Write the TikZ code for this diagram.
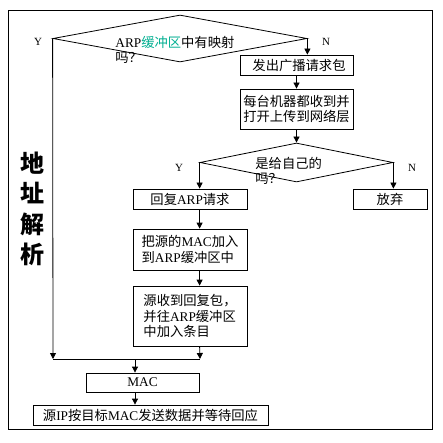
\documentclass[tikz,border=0pt]{standalone}
\usepackage{fontspec}
\setmainfont{Noto Sans CJK SC}
\newfontfamily\lat{Liberation Serif}
\usetikzlibrary{shapes.geometric,arrows.meta}
\definecolor{teal1}{RGB}{0,175,145}
\begin{document}
\begin{tikzpicture}[x=1pt,y=-1pt,
  line width=0.8pt,
  box/.style={draw,rectangle,inner sep=1pt,align=left,font=\fontsize{13.3}{15.5}\selectfont},
  dia/.style={draw,diamond,inner sep=0pt},
  txt/.style={inner sep=0pt,anchor=west,font=\fontsize{13.3}{15.5}\selectfont},
  yn/.style={inner sep=0pt,font=\lat\fontsize{11}{13}\selectfont},
  arr/.style={-{Triangle[length=6pt,width=6pt]}}]
\useasboundingbox[fill=white] (0,0) rectangle (443,443);
\node[draw,rectangle,minimum width=424pt,minimum height=419pt,inner sep=0pt] (frame) at (220,219.5) {};
\node[inner sep=0pt,align=center,font=\fontsize{24}{30.5}\selectfont\bfseries] (side) at (32,209) {地\\址\\解\\析};
% decision 1
\node[dia,minimum width=254pt,minimum height=47pt] (d1) at (180,38.5) {};
\node[txt] (t1a) at (115,42) {{\lat ARP}\textcolor{teal1}{缓冲区}中有映射};
\node[txt] (t1b) at (115,58) {吗？};
\node[yn] (y1) at (38,42) {Y};
\node[yn] (n1) at (326,42) {N};
% right branch
\node[box,minimum width=113pt,minimum height=20pt] (b1) at (296.5,65) {\hspace{5pt}发出广播请求包};
\node[box,minimum width=113pt,minimum height=40pt] (b2) at (296.5,109) {每台机器都收到并\\打开上传到网络层};
% decision 2
\node[dia,minimum width=193pt,minimum height=39pt] (d2) at (296.5,162.5) {};
\node[txt] (t2a) at (255,163) {是给自己的};
\node[txt] (t2b) at (255,179) {吗？};
\node[yn] (y2) at (179,168) {Y};
\node[yn] (n2) at (412,168) {N};
\node[box,minimum width=114pt,minimum height=20pt] (b3) at (190,199) {回复{\lat ARP}请求};
\node[box,minimum width=74pt,minimum height=20pt] (b4) at (390,199) {放弃};
\node[box,minimum width=114pt,minimum height=41pt] (b5) at (190,249.5) {把源的{\lat MAC}加入\\到{\lat ARP}缓冲区中};
\node[box,minimum width=114pt,minimum height=60pt] (b6) at (190,316) {源收到回复包，\\并往{\lat ARP}缓冲区\\中加入条目};
\node[box,minimum width=113pt,minimum height=19pt] (b7) at (142.5,382.5) {\lat MAC};
\node[box,minimum width=235pt,minimum height=20pt] (b8) at (150.5,415) {源{\lat IP}按目标{\lat MAC}发送数据并等待回应};
\coordinate (jl) at (53,359);
\coordinate (jr) at (200,359);
\coordinate (jm) at (135,359);
% connectors
\draw[arr] (d1.east) -- (d1.east |- b1.north);
\draw[arr] (b1.south) -- (b2.north);
\draw[arr] (b2.south) -- (d2.north);
\draw[arr] (d2.west) -- (d2.west |- b3.north);
\draw[arr] (d2.east) -- (d2.east |- b4.north);
\draw[arr] (b3.south -| d2.west) -- (b5.north -| d2.west);
\draw[arr] (b5.south -| d2.west) -- (b6.north -| d2.west);
\draw[arr] (b6.south -| d2.west) -- (jr);
\draw[arr] (d1.west) -- (jl);
\draw (jl) -- (jr);
\draw[arr] (jm) -- (jm |- b7.north);
\draw[arr] (b7.south -| jm) -- (b8.north -| jm);
\end{tikzpicture}
\end{document}
